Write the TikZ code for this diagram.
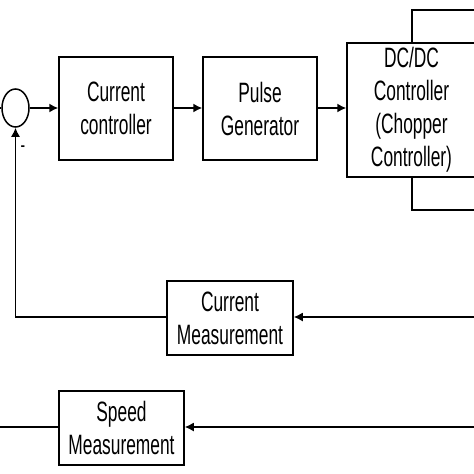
\documentclass[tikz,border=0pt]{standalone}
\usepackage{fontspec}
\newfontfamily\narrowsans[FakeStretch=0.62]{Liberation Sans}
\usetikzlibrary{arrows.meta,shapes.geometric}
\tikzset{
  bloc/.style={draw,line width=1.5pt,inner sep=0pt,align=center,
    font=\narrowsans\fontsize{28}{33}\selectfont},
  fil/.style={line width=1.5pt},
  fleche/.style={fil,-{Latex[length=9pt,width=9pt]}}
}
\begin{document}
\begin{tikzpicture}[x=1pt,y=-1pt]

\useasboundingbox (0,0) rectangle (474,474) ;

% chaine directe

\node[draw,ellipse,line width=1.5pt,minimum width=27pt,minimum height=38pt,inner sep=0pt] (somme) at (15.5,108) {} ;
\node[bloc,minimum width=114pt,minimum height=103pt] (regcourant) at (116,108.5) {Current\\controller} ;
\node[bloc,minimum width=114pt,minimum height=103pt] (impulsions) at (260,108.5) {Pulse\\Generator} ;
\node[bloc,minimum width=129pt,minimum height=134pt] (hacheur) at (411.5,110) {DC/DC\\Controller\\(Chopper\\Controller)} ;

\coordinate (entree) at (0,108) ;
\draw[fil] (entree) -- (somme.west) ;
\draw[fleche] (somme.east) -- (regcourant.west |- somme.east) ;
\draw[fleche] (regcourant.east |- somme.east) -- (impulsions.west |- somme.east) ;
\draw[fleche] (impulsions.east |- somme.east) -- (hacheur.west |- somme.east) ;

% sorties du hacheur

\coordinate (haut) at (474,10) ;
\coordinate (bas) at (474,210) ;
\draw[fil] (412,43) |- (haut) ;
\draw[fil] (412,177) |- (bas) ;

% mesures

\node[bloc,minimum width=126pt,minimum height=74pt] (mescourant) at (230,318) {Current\\Measurement} ;
\node[bloc,minimum width=125pt,minimum height=74pt] (mesvitesse) at (121.5,428) {Speed\\Measurement} ;

\coordinate (retourI) at (474,317) ;
\coordinate (retourW) at (474,427) ;
\coordinate (sortieW) at (0,427) ;

\draw[fleche] (retourI) -- (mescourant.east |- retourI) ;
\draw[fleche] (mescourant.west |- retourI) -| (somme.south) ;
\draw[fleche] (retourW) -- (mesvitesse.east |- retourW) ;
\draw[fil] (mesvitesse.west |- sortieW) -- (sortieW) ;

\node[font=\narrowsans\fontsize{22}{22}\selectfont] (moins) at (23,149) {-} ;

\end{tikzpicture}
\end{document}
